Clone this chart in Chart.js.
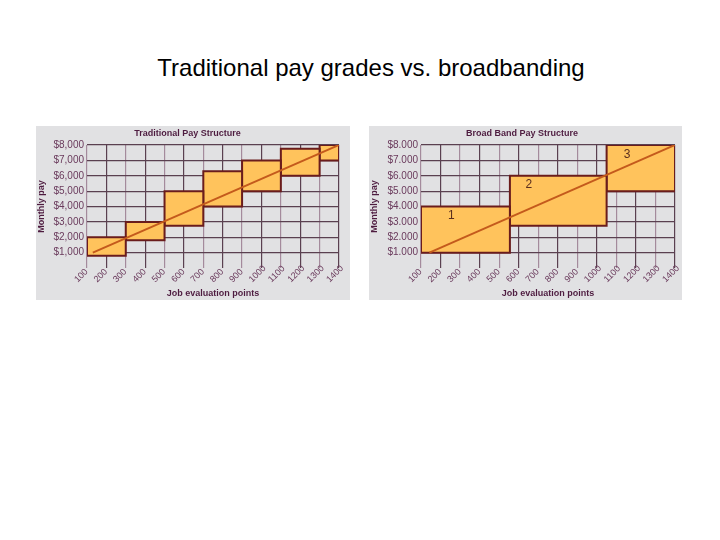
<!DOCTYPE html>
<html>
<head>
<meta charset="utf-8">
<script src="https://cdn.jsdelivr.net/npm/chart.js@4.4.1/dist/chart.umd.min.js"></script>
<style>
  html, body { margin: 0; padding: 0; background: #ffffff; }
  body { width: 720px; height: 540px; position: relative; overflow: hidden; font-family: "Liberation Sans", Arial, sans-serif; }
  #mainTitle { position: absolute; left: 0; width: 742px; top: 56px; text-align: center; font-size: 24px; line-height: 24px; color: #000; }
  canvas { position: absolute; background: #e1e1e3; }
  #left { left: 36px; top: 126px; }
  #right { left: 369px; top: 126px; }
</style>
</head>
<body>
<div id="mainTitle">Traditional pay grades vs. broadbanding</div>
<canvas id="left" width="314" height="174"></canvas>
<canvas id="right" width="313" height="174"></canvas>
<script>
// ---- Data ----
const xTickValues = [100, 200, 300, 400, 500, 600, 700, 800, 900, 1000, 1100, 1200, 1300, 1400];
const xTickLabels = ["100", "200", "300", "400", "500", "600", "700", "800", "900", "1000", "1100", "1200", "1300", "1400"];
const yTickValues = [1000, 2000, 3000, 4000, 5000, 6000, 7000, 8000];
const yTickLabelsLeft = ["$1,000", "$2,000", "$3,000", "$4,000", "$5,000", "$6,000", "$7,000", "$8,000"];
const yTickLabelsRight = ["$1.000", "$2.000", "$3.000", "$4.000", "$5.000", "$6.000", "$7.000", "$8.000"];

// Traditional pay grades
const gradeStart = [100, 300, 500, 700, 900, 1100, 1300];
const gradeEnd   = [300, 500, 700, 900, 1100, 1300, 1400];
const gradeMin   = [800, 1800, 2750, 4000, 5000, 6000, 7000];
const gradeMax   = [2000, 3000, 5000, 6300, 7000, 7750, 8000];
const tradLineX  = [130, 1400];
const tradLineY  = [1000, 8000];

// Broad bands
const bandStart  = [100, 555, 1050];
const bandEnd    = [555, 1050, 1400];
const bandMin    = [1000, 2750, 5000];
const bandMax    = [4000, 6000, 8000];
const bandNames  = ["1", "2", "3"];
const bandNameX  = [255, 652, 1155];
const bandNameY  = [3400, 5400, 7400];
const broadLineX = [143, 1400];
const broadLineY = [1000, 8000];

// ---- Styling ----
const FONT = "'Liberation Sans', Arial, sans-serif";
const TEXT_PURPLE = "#6a3a5c";
const TITLE_PURPLE = "#4e1c40";
const GRID_DARK = "#5a4050";
const GRID_LIGHT = "#a48a9c";
const BOX_FILL = "#ffc35c";
const BOX_EDGE = "#6a1c1c";
const LINE_COLOR = "#c45a1c";

function boxDatasets(starts, ends, mins, maxs) {
  return starts.map((s, i) => ({
    data: [
      {x: s, y: mins[i]}, {x: ends[i], y: mins[i]},
      {x: ends[i], y: maxs[i]}, {x: s, y: maxs[i]}, {x: s, y: mins[i]}
    ],
    showLine: true,
    fill: 'shape',
    backgroundColor: BOX_FILL,
    borderColor: BOX_EDGE,
    borderWidth: 2,
    pointRadius: 0,
    tension: 0,
    order: 2
  }));
}

function lineDataset(xs, ys) {
  return {
    data: xs.map((x, i) => ({x: x, y: ys[i]})),
    showLine: true,
    fill: false,
    borderColor: LINE_COLOR,
    borderWidth: 2,
    pointRadius: 0,
    order: 0
  };
}

const bandLabelPlugin = {
  id: 'bandLabels',
  afterDatasetsDraw(chart, args, opts) {
    if (!opts || !opts.names) return;
    const {ctx, scales: {x, y}} = chart;
    ctx.save();
    ctx.fillStyle = "#5a2e1e";
    ctx.font = "12px " + FONT;
    ctx.textAlign = "center";
    ctx.textBaseline = "middle";
    opts.names.forEach((n, i) => {
      ctx.fillText(n, x.getPixelForValue(opts.xs[i]), y.getPixelForValue(opts.ys[i]));
    });
    ctx.restore();
  }
};

// Slanted x tick labels, anchored at their lower-left end
const slantTickPlugin = {
  id: 'slantTicks',
  afterDraw(chart) {
    const {ctx, scales: {x, y}} = chart;
    ctx.save();
    ctx.fillStyle = TEXT_PURPLE;
    ctx.font = "9px " + FONT;
    ctx.textAlign = "left";
    ctx.textBaseline = "middle";
    xTickValues.forEach((v, i) => {
      ctx.save();
      ctx.translate(x.getPixelForValue(v) - 11, y.bottom + 13);
      ctx.rotate(-Math.PI / 4);
      ctx.fillText(xTickLabels[i], 0, 0);
      ctx.restore();
    });
    ctx.restore();
  }
};

function makeOptions(titleText, yLabels, yWidth, rightPad, names) {
  return {
    responsive: false,
    animation: false,
    devicePixelRatio: 1,
    layout: { padding: { left: 0, right: rightPad, top: 0, bottom: 0 } },
    plugins: {
      legend: { display: false },
      tooltip: { enabled: false },
      title: {
        display: true, text: titleText, color: TITLE_PURPLE,
        font: { family: FONT, size: 9, weight: 'bold' },
        padding: { top: 2, bottom: 6.2 }
      },
      bandLabels: names
    },
    scales: {
      x: {
        type: 'linear', min: 100, max: 1400,
        afterFit(scale) { scale.height = 32; },
        afterBuildTicks(scale) { scale.ticks = xTickValues.map(v => ({value: v})); },
        border: { display: false },
        grid: {
          drawTicks: false,
          lineWidth: 1.2,
          color: c => (c.tick && c.tick.value % 200 === 0) ? GRID_DARK : GRID_LIGHT
        },
        ticks: { display: false },
        title: {
          display: true, text: 'Job evaluation points', color: TITLE_PURPLE,
          font: { family: FONT, size: 9, weight: 'bold' },
          padding: { top: 0, bottom: 1 }
        }
      },
      y: {
        type: 'linear', min: 0, max: 8000,
        afterFit(scale) { scale.width = yWidth; },
        afterBuildTicks(scale) { scale.ticks = [0].concat(yTickValues).map(v => ({value: v})); },
        border: { display: false },
        grid: {
          drawTicks: false,
          lineWidth: 1.2,
          color: c => (c.tick && c.tick.value === 0) ? 'rgba(0,0,0,0)' : GRID_DARK
        },
        ticks: {
          padding: 3, autoSkip: false,
          color: TEXT_PURPLE, font: { family: FONT, size: 10 },
          callback: v => { const i = yTickValues.indexOf(v); return i >= 0 ? yLabels[i] : ''; }
        },
        title: {
          display: true, text: 'Monthly pay', color: TITLE_PURPLE,
          font: { family: FONT, size: 9, weight: 'bold' },
          padding: { top: 0, bottom: 0 }
        }
      }
    }
  };
}

new Chart(document.getElementById('left'), {
  type: 'scatter',
  data: { datasets: [lineDataset(tradLineX, tradLineY)].concat(boxDatasets(gradeStart, gradeEnd, gradeMin, gradeMax)) },
  options: makeOptions('Traditional Pay Structure', yTickLabelsLeft, 51, 11, null),
  plugins: [bandLabelPlugin, slantTickPlugin]
});

new Chart(document.getElementById('right'), {
  type: 'scatter',
  data: { datasets: [lineDataset(broadLineX, broadLineY)].concat(boxDatasets(bandStart, bandEnd, bandMin, bandMax)) },
  options: makeOptions('Broad Band Pay Structure', yTickLabelsRight, 52, 7, { names: bandNames, xs: bandNameX, ys: bandNameY }),
  plugins: [bandLabelPlugin, slantTickPlugin]
});
</script>
</body>
</html>
